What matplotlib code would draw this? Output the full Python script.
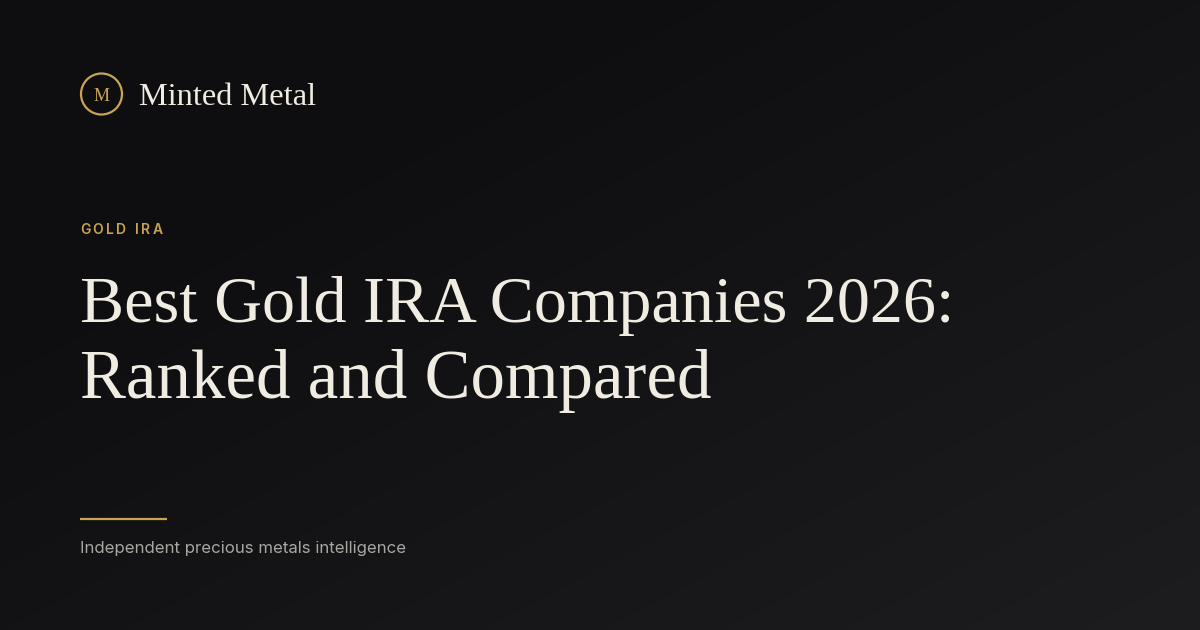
import numpy as np
import matplotlib
matplotlib.use("Agg")
import matplotlib.pyplot as plt
from matplotlib.patches import Circle

# ---- content ----
brand_name = "Minted Metal"
brand_initial = "M"
category_label = "GOLD IRA"
title_lines = ["Best Gold IRA Companies 2026:", "Ranked and Compared"]
tagline = "Independent precious metals intelligence"

# ---- style ----
W, H = 1200, 630
GOLD = "#c9a452"
CREAM = "#f0ece2"
GREY = "#a9a7a4"
BG_TL = np.array([14, 14, 16]) / 255
BG_BR = np.array([29, 29, 32]) / 255
SERIF = ["Liberation Serif", "DejaVu Serif"]
SANS = ["Inter", "DejaVu Sans"]

fig = plt.figure(figsize=(W / 100, H / 100), dpi=100)
ax = fig.add_axes([0, 0, 1, 1])
ax.set_xlim(0, W)
ax.set_ylim(H, 0)
ax.axis("off")

# diagonal gradient background
yy, xx = np.mgrid[0:H:2, 0:W:2]
t = (xx / W + yy / H) / 2.0
t = np.clip((t - 0.25) / 0.75, 0, 1)
img = BG_TL[None, None, :] * (1 - t[..., None]) + BG_BR[None, None, :] * t[..., None]
ax.imshow(img, extent=[0, W, H, 0], aspect="auto", interpolation="bilinear", zorder=0)

renderer = fig.canvas.get_renderer()


def fit_text(x, y, s, target_w, family, color, start_size, **kw):
    txt = ax.text(x, y, s, fontsize=start_size, family=family, color=color,
                  va="baseline", ha="left", zorder=3, **kw)
    w = txt.get_window_extent(renderer).width
    txt.set_fontsize(start_size * target_w / w)
    return txt


def spaced_text(x, y, s, size, family, color, tracking, **kw):
    cx = x
    for ch in s:
        if ch != " ":
            t_ = ax.text(cx, y, ch, fontsize=size, family=family, color=color,
                         va="baseline", ha="left", zorder=3, **kw)
            w = t_.get_window_extent(renderer).width
        else:
            t_ = ax.text(cx, y, "x", fontsize=size, family=family, alpha=0)
            w = t_.get_window_extent(renderer).width * 0.7
        cx += w + tracking


# logo
ax.add_patch(Circle((101.5, 94), 20.5, fill=False, edgecolor=GOLD, linewidth=1.6, zorder=3))
ax.text(101.5, 101, brand_initial, fontsize=13, family=SERIF, color=GOLD,
        ha="center", va="baseline", zorder=3)
fit_text(139, 105, brand_name, 177, SERIF, CREAM, 22)

# category label
spaced_text(80, 234, category_label, 10, SANS, GOLD, 2.2, fontweight="semibold")

# title
fit_text(80, 322, title_lines[0], 875, SERIF, CREAM, 50)
fit_text(80, 398, title_lines[1], 632, SERIF, CREAM, 50)

# divider
ax.plot([80, 167], [518.5, 518.5], color=GOLD, linewidth=1.6, solid_capstyle="butt", zorder=3)

# tagline
fit_text(80, 553, tagline, 325, SANS, GREY, 11.5)

fig.savefig("out.png", dpi=100, facecolor="#0e0e10")
